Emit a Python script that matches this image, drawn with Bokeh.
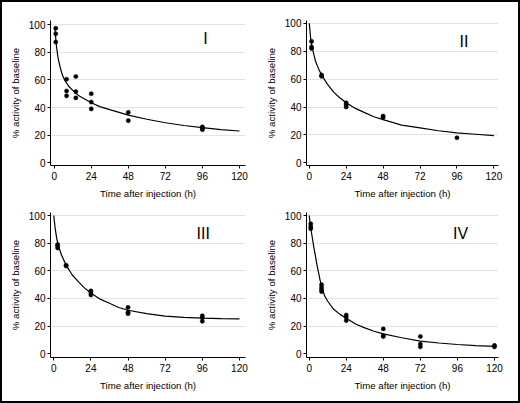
from bokeh.plotting import figure
from bokeh.layouts import gridplot
from bokeh.models import FixedTicker, Label, Range1d
from bokeh.embed import file_html
from bokeh.resources import INLINE

# ---------------- data ----------------
panel_names = ["I", "II", "III", "IV"]
x_ticks = [0, 24, 48, 72, 96, 120]
y_ticks = [0, 20, 40, 60, 80, 100]

# observed points
t1 = [1, 1, 1, 8, 8, 8, 14, 14, 14, 24, 24, 24, 48, 48, 96, 96, 96]
v1 = [97.5, 93.5, 87.5, 60.5, 52, 48.5, 62.5, 51.5, 47, 50, 44, 39, 36.5, 30.5, 26, 25, 24]

t2 = [1.5, 1.5, 1.5, 8, 8, 24, 24, 24, 48, 48, 96]
v2 = [87, 83, 82, 63, 62, 43, 41.5, 40, 33.5, 32.5, 18]

t3 = [2.5, 2.5, 2.5, 8, 8, 24, 24, 24, 48, 48, 48, 96, 96, 96]
v3 = [79, 78, 76.5, 64, 63.5, 45.5, 44, 42.5, 33.5, 30, 29, 27.5, 26, 23.5]

t4 = [1, 1, 1, 8, 8, 8, 8, 24, 24, 24, 48, 48, 48, 72, 72, 72, 120, 120]
v4 = [94, 92, 90.5, 50, 48, 46.5, 45, 28, 26.5, 24, 18, 13, 12.5, 12.5, 7, 5, 6, 5]

# fitted curves
ct1 = [0.5, 1, 1.5, 2.5, 4, 5.5, 7, 9, 12, 16, 20, 24, 30, 36, 42, 48, 60, 72, 84, 96, 108, 120]
cv1 = [97, 90, 84, 76, 68.5, 63, 59.5, 56, 52.5, 48.5, 46, 43.5, 40.5, 38.5, 36.5, 34.5, 31.5, 29, 27, 25.5, 24, 23]

ct2 = [0, 1, 2, 4, 6, 8, 12, 16, 20, 24, 30, 36, 42, 48, 60, 72, 84, 96, 108, 120]
cv2 = [100, 88, 82, 73, 67.5, 63, 56, 50.5, 46.5, 43, 39, 36, 33, 31, 27, 25, 23, 21.5, 20.5, 19.5]

ct3 = [0, 1, 2, 3, 5, 8, 12, 16, 20, 24, 30, 36, 42, 48, 60, 72, 84, 96, 108, 120]
cv3 = [100, 90, 83, 78, 71.5, 64, 57, 52, 47.5, 44, 39.5, 36.5, 33.5, 31.5, 29, 27.3, 26.3, 25.8, 25.4, 25.2]

ct4 = [0, 1, 2, 3, 4, 5, 6, 7, 8, 10, 12, 16, 20, 24, 30, 36, 42, 48, 60, 72, 84, 96, 108, 120]
cv4 = [100, 91, 84, 77, 71, 64.5, 59, 53.5, 48.5, 42, 38, 32, 28.5, 25.7, 21.5, 18.7, 16.3, 14.4, 11.6, 9.2, 7.8, 6.7, 5.9, 5.3]

points = [(t1, v1), (t2, v2), (t3, v3), (t4, v4)]
curves = [(ct1, cv1), (ct2, cv2), (ct3, cv3), (ct4, cv4)]

# ---------------- layout / style ----------------
FONT = "Liberation Sans"
# (width, height, border_left, border_right, border_top, border_bottom)
geom = [
    (258, 199, 48, 15, 18, 36),
    (258, 199, 46, 20, 18, 36),
    (258, 200, 48, 15, 11, 44),
    (258, 200, 46, 20, 11, 44),
]
xr = [(-2.4, 123.9), (-1.8, 123.0), (-2.1, 123.9), (-1.75, 122.6)]
yr = [(-2.0, 103.1), (-1.9, 102.0), (-2.7, 102.2), (-2.7, 102.2)]
label_pos = [(98, 90.4), (100.5, 86.7), (96.6, 87.2), (98, 87.2)]

figs = []
for i in range(4):
    w, h, bl, br, bt, bb = geom[i]
    p = figure(width=w, height=h, output_backend="svg", toolbar_location=None,
               x_range=Range1d(*xr[i]), y_range=Range1d(*yr[i]),
               min_border_left=bl, min_border_right=br,
               min_border_top=bt, min_border_bottom=bb)
    p.outline_line_color = None
    p.background_fill_color = "white"
    p.border_fill_color = "white"

    p.xgrid.visible = False
    p.ygrid.ticker = FixedTicker(ticks=[20, 40, 60, 80, 100])
    p.ygrid.grid_line_color = "#e3e3e3"
    p.ygrid.grid_line_width = 1.2

    for ax, ticks in ((p.xaxis, x_ticks), (p.yaxis, y_ticks)):
        ax.ticker = FixedTicker(ticks=ticks)
        ax.minor_tick_line_color = None
        ax.major_tick_in = 0
        ax.major_tick_out = 3
        ax.axis_line_color = "black"
        ax.major_tick_line_color = "black"
        ax.axis_line_width = 1
        ax.major_label_text_font = FONT
        ax.major_label_text_font_size = "10px"
        ax.major_label_text_color = "black"
        ax.axis_label_text_font = FONT
        ax.axis_label_text_font_size = "9.7px"
        ax.axis_label_text_font_style = "normal"
        ax.axis_label_text_color = "black"
    p.xaxis.axis_label = "Time after injection (h)"
    p.yaxis.axis_label = "% activity of baseline"
    p.xaxis.major_label_standoff = 3
    p.yaxis.major_label_standoff = 2
    p.xaxis.axis_label_standoff = 5
    p.yaxis.axis_label_standoff = 5

    ct, cv = curves[i]
    p.line(ct, cv, line_color="black", line_width=1.2)
    tt, vv = points[i]
    p.scatter(tt, vv, size=4.2, fill_color="black", line_color="black", line_width=0.5)

    lx, ly = label_pos[i]
    p.add_layout(Label(x=lx, y=ly, text=panel_names[i], text_font=FONT,
                       text_font_size="16px", text_color="black",
                       text_align="center", text_baseline="middle"))
    figs.append(p)

g = gridplot([[figs[0], figs[1]], [figs[2], figs[3]]], toolbar_location=None)
g.styles = {"border": "2px solid black"}

open("out.html", "w").write(file_html(g, INLINE))
